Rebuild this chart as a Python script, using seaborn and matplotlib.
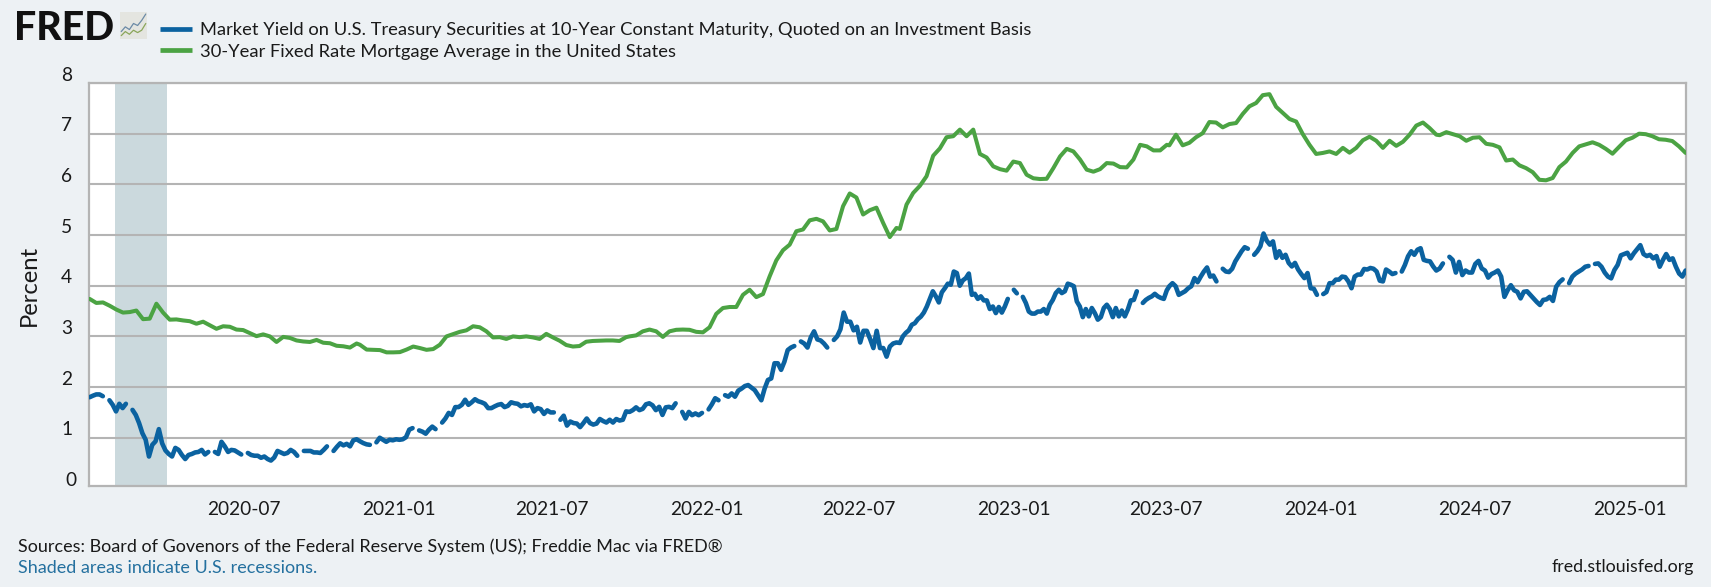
import numpy as np
import pandas as pd
import matplotlib
matplotlib.use("Agg")
import matplotlib.pyplot as plt
import matplotlib.dates as mdates
from matplotlib.transforms import blended_transform_factory, ScaledTranslation
import seaborn as sns

nan = np.nan

SERIES_TREASURY = "Market Yield on U.S. Treasury Securities at 10-Year Constant Maturity, Quoted on an Investment Basis"
SERIES_MORTGAGE = "30-Year Fixed Rate Mortgage Average in the United States"
SOURCES = "Sources: Board of Govenors of the Federal Reserve System (US); Freddie Mac via FRED®"
SHADED = "Shaded areas indicate U.S. recessions."
SITE = "fred.stlouisfed.org"
Y_LABEL = "Percent"
X_TICKS = ["2020-07-01", "2021-01-01", "2021-07-01", "2022-01-01", "2022-07-01",
           "2023-01-01", "2023-07-01", "2024-01-01", "2024-07-01", "2025-01-01"]
Y_TICKS = [1, 2, 3, 4, 5, 6, 7, 8]
RECESSION = ["2020-02-01", "2020-04-03"]

# each period of the chart runs between these dates
PERIOD_START = ["2020-01-02", "2020-11-18", "2021-10-04", "2022-08-21", "2023-07-07", "2024-05-23"]
PERIOD_END = ["2020-11-14", "2021-09-30", "2022-08-17", "2023-07-04", "2024-05-19", "2025-03-11"]

treasury_1 = [1.80, 1.83, 1.855, 1.855, 1.82, nan, 1.74, 1.65, 1.52, 1.67, 1.585, 1.67, nan, 1.55, 1.45, 1.29,
              1.09, 0.96, 0.63, 0.86, 0.93, 1.17, 0.89, 0.75, 0.68, 0.63, 0.80, 0.76, 0.66, 0.58, 0.66, 0.68,
              0.71, 0.72, 0.76, 0.67, 0.72, nan, 0.72, 0.68, 0.92, 0.83, 0.72, 0.76, 0.75, 0.71, 0.67, nan,
              0.70, 0.66, 0.645, 0.645, 0.605, 0.63, 0.58, 0.55, 0.61, 0.74, 0.71, 0.68, 0.70, 0.76, 0.72, 0.645,
              nan, 0.74, 0.74, 0.74, 0.71, 0.71, 0.70, 0.76, 0.83, nan, 0.74, 0.82, 0.89, 0.85, 0.88, 0.83, 0.95, 0.97]
treasury_2 = [0.93, 0.895, 0.87, 0.86, nan, 0.91, 1.0, 0.96, 0.92, 0.96, 0.95, 0.97, 0.96, 0.97, 1.01, 1.16, 1.19,
              nan, 1.145, 1.12, 1.08, 1.16, 1.22, 1.17, nan, 1.30, 1.38, 1.49, 1.45, 1.605, 1.605, 1.65, 1.75,
              1.65, 1.70, 1.76, 1.72, 1.70, 1.67, 1.585, 1.585, 1.62, 1.65, 1.665, 1.605, 1.63, 1.70, 1.68, 1.67,
              1.62, 1.645, 1.63, 1.66, 1.52, 1.585, 1.565, 1.47, 1.54, 1.50, 1.50, nan, 1.355, 1.435, 1.24, 1.32,
              1.29, 1.28, 1.21, 1.29, 1.38, 1.29, 1.26, 1.28, 1.37, 1.33, 1.30, 1.355, 1.30, 1.37, 1.34, 1.355, 1.52]
treasury_3 = [1.51, 1.545, 1.60, 1.545, 1.57, 1.66, 1.68, 1.64, 1.545, 1.61, 1.45, 1.60, 1.61, 1.585, 1.68, nan,
              1.51, 1.38, 1.51, 1.445, 1.48, 1.445, 1.49, nan, 1.56, 1.66, 1.78, 1.74, nan, 1.84, 1.81, 1.875,
              1.81, 1.93, 1.97, 2.02, 2.04, 1.99, 1.94, 1.84, 1.74, 1.97, 2.14, 2.17, 2.47, 2.47, 2.34, 2.50, 2.73,
              2.78, 2.81, nan, 2.90, 2.86, 2.78, 2.98, 3.10, 2.94, 2.92, 2.86, 2.78, nan, 2.93, 3.0, 3.14, 3.47,
              3.29, 3.29, 3.12, 3.19, 2.88, 3.11, 3.11, 2.95, 2.77, 3.11, 2.77, 2.77, 2.60, 2.80, 2.86, 2.88]
treasury_4 = [2.87, 3.0, 3.07, 3.12, 3.23, 3.26, 3.34, 3.39, 3.47, 3.59, 3.74, 3.89, 3.79, 3.67, 3.87, 3.95, 4.04,
              4.02, 4.28, 4.25, 4.0, 4.105, 4.15, 4.24, 3.82, 3.84, 3.74, 3.79, 3.71, 3.71, 3.54, 3.59, 3.46,
              3.58, 3.47, 3.59, 3.74, nan, 3.92, 3.85, nan, 3.78, 3.66, 3.49, 3.45, 3.45, 3.49, 3.49, 3.54, 3.45,
              3.625, 3.72, 3.855, 3.92, 3.855, 3.89, 4.04, 4.02, 3.99, 3.69, 3.59, 3.38, 3.54, 3.395, 3.56, 3.46,
              3.33, 3.38, 3.56, 3.625, 3.54, 3.38, 3.56, 3.395, 3.51, 3.395, 3.53, 3.71, 3.72, 3.89, nan, 3.66,
              3.72, 3.76, 3.79, 3.84, 3.79, 3.76, 3.74, 3.91]
treasury_5 = [3.99, 4.05, 3.99, 3.82, 3.855, 3.89, 3.95, 3.99, 4.15, 4.07, 4.18, 4.28, 4.36, 4.18, 4.20, 4.085, nan,
              4.335, 4.28, 4.27, 4.335, 4.48, 4.58, 4.68, 4.76, 4.73, nan, 4.61, 4.68, 4.78, 5.03, 4.89, 4.81,
              4.875, 4.55, 4.68, 4.55, 4.61, 4.45, 4.38, 4.45, 4.32, 4.23, 4.15, 4.25, 3.95, 3.94, 3.82, nan,
              3.835, 3.875, 4.05, 4.05, 4.12, 4.12, 4.18, 4.17, 4.085, 3.95, 4.18, 4.22, 4.22, 4.33, 4.32, 4.35,
              4.335, 4.28, 4.10, 4.085, 4.32, 4.28, 4.23, 4.25, nan, 4.28, 4.41, 4.58, 4.68, 4.61, 4.71, 4.74,
              4.51, 4.49, 4.48, 4.38, 4.30]
treasury_6 = [4.34, 4.44, nan, 4.57, 4.51, 4.26, 4.47, 4.21, 4.30, 4.26, 4.26, 4.43, 4.49, 4.34, 4.30, 4.16, 4.23,
              4.26, 4.30, 4.18, 3.78, 3.91, 4.01, 3.91, 3.88, 3.75, 3.88, 3.89, 3.82, 3.75, 3.68, 3.62, 3.72,
              3.73, 3.78, 3.70, 3.98, 4.07, 4.125, nan, 4.05, 4.18, 4.24, 4.28, 4.32, 4.375, 4.39, nan, 4.43,
              4.44, 4.375, 4.26, 4.18, 4.145, 4.31, 4.41, 4.60, 4.625, 4.65, 4.54, 4.64, 4.72, 4.80, 4.625, 4.585,
              4.61, 4.54, 4.585, 4.375, 4.51, 4.625, 4.51, 4.54, 4.375, 4.24, 4.18, 4.30]

mortgage_1 = [3.74, 3.66, 3.67, 3.605, 3.53, 3.47, 3.48, 3.51, 3.34, 3.35, 3.645, 3.47, 3.33, 3.335, 3.315, 3.30,
              3.25, 3.29, 3.22, 3.15, 3.20, 3.19, 3.135, 3.125, 3.065, 3.005, 3.04, 3.0, 2.89, 2.99, 2.97, 2.92,
              2.90, 2.89, 2.93, 2.875, 2.865, 2.815, 2.805, 2.78, 2.86]
mortgage_2 = [2.835, 2.74, 2.735, 2.73, 2.685, 2.685, 2.69, 2.74, 2.80, 2.77, 2.735, 2.75, 2.835, 3.0, 3.045, 3.09,
              3.12, 3.2, 3.18, 3.10, 2.98, 2.985, 2.95, 3.0, 2.985, 3.0, 2.98, 2.95, 3.05, 2.98, 2.915, 2.83, 2.80,
              2.81, 2.895, 2.91, 2.915, 2.92, 2.92, 2.91, 2.985]
mortgage_3 = [3.0, 3.02, 3.10, 3.135, 3.10, 2.99, 3.10, 3.13, 3.135, 3.13, 3.09, 3.08, 3.18, 3.445, 3.56, 3.58, 3.58,
              3.82, 3.92, 3.775, 3.835, 4.185, 4.50, 4.70, 4.81, 5.075, 5.11, 5.29, 5.32, 5.27, 5.09, 5.12, 5.57,
              5.82, 5.74, 5.405, 5.49, 5.54, 5.24, 4.96, 5.14]
mortgage_4 = [5.12, 5.60, 5.83, 5.97, 6.16, 6.565, 6.71, 6.93, 6.95, 7.08, 6.95, 7.08, 6.60, 6.53, 6.355, 6.30, 6.27,
              6.45, 6.42, 6.19, 6.12, 6.105, 6.11, 6.32, 6.55, 6.70, 6.65, 6.49, 6.29, 6.25, 6.30, 6.42, 6.41, 6.34,
              6.335, 6.49, 6.78, 6.75, 6.67, 6.67, 6.78]
mortgage_5 = [6.77, 6.98, 6.77, 6.82, 6.93, 7.01, 7.23, 7.22, 7.125, 7.19, 7.21, 7.39, 7.54, 7.605, 7.76, 7.78, 7.53,
              7.41, 7.29, 7.24, 6.99, 6.78, 6.60, 6.62, 6.65, 6.60, 6.72, 6.625, 6.72, 6.87, 6.94, 6.86, 6.72, 6.86,
              6.76, 6.84, 6.98, 7.16, 7.22, 7.11, 6.98]
mortgage_6 = [6.97, 7.03, 6.99, 6.95, 6.86, 6.92, 6.93, 6.80, 6.78, 6.73, 6.47, 6.49, 6.375, 6.32, 6.24, 6.09, 6.08,
              6.125, 6.34, 6.45, 6.62, 6.75, 6.79, 6.83, 6.78, 6.70, 6.605, 6.74, 6.87, 6.92, 7.0, 6.99, 6.95, 6.89,
              6.88, 6.855, 6.75, 6.62]

TREASURY = [treasury_1, treasury_2, treasury_3, treasury_4, treasury_5, treasury_6]
MORTGAGE = [mortgage_1, mortgage_2, mortgage_3, mortgage_4, mortgage_5, mortgage_6]

BG = "#EDF1F4"
GRID = "#B4B4B4"
BLUE = "#0B62A0"
GREEN = "#4BA343"
BAND = "#CBD9DD"
INK = "#1A1A1A"
FONT = "Lato"


def frame(name, periods):
    parts = []
    for vals, s, e in zip(periods, PERIOD_START, PERIOD_END):
        d = pd.date_range(s, e, periods=len(vals))
        parts.append(pd.DataFrame({"date": d, "value": vals}))
    df = pd.concat(parts, ignore_index=True)
    df["part"] = df["value"].isna().cumsum()
    df["series"] = name
    return df.dropna()


data = pd.concat([frame(SERIES_TREASURY, TREASURY), frame(SERIES_MORTGAGE, MORTGAGE)], ignore_index=True)
data["unit"] = data["series"].str[:2] + data["part"].astype(str)

sns.set_theme(style="white")
plt.rcParams["font.family"] = [FONT, "DejaVu Sans"]

W, H = 1711, 587
fig = plt.figure(figsize=(W / 100, H / 100), dpi=100, facecolor=BG)
L, R, T, B = 88.8, 1685.6, 83.0, 485.7
ax = fig.add_axes([L / W, 1 - B / H, (R - L) / W, (B - T) / H], facecolor="white")

ax.axvspan(pd.Timestamp(RECESSION[0]), pd.Timestamp(RECESSION[1]), color=BAND, lw=0, zorder=1)
sns.lineplot(data=data, x="date", y="value", hue="series", units="unit", estimator=None,
             palette={SERIES_TREASURY: BLUE, SERIES_MORTGAGE: GREEN}, linewidth=2.9,
             solid_capstyle="round", solid_joinstyle="round", ax=ax, zorder=3)
for line in ax.get_lines():
    if line.get_color() == BLUE:
        line.set_linewidth(3.3)

handles, labels = ax.get_legend_handles_labels()
ax.get_legend().remove()

ax.set_xlim(pd.Timestamp("2020-01-01"), pd.Timestamp("2025-03-11"))
ax.set_ylim(0.054, 8)
ax.set_axisbelow("line")
ax.set_yticks(Y_TICKS)
ax.set_xticks(pd.to_datetime(X_TICKS))
ax.xaxis.set_major_formatter(mdates.DateFormatter("%Y-%m"))
ax.grid(axis="y", color=GRID, lw=1.5)
ax.grid(axis="x", visible=False)
ax.tick_params(axis="x", length=0, pad=11, labelsize=13.8, labelcolor=INK)
ax.tick_params(axis="y", length=0, pad=12, labelsize=13.8, labelcolor=INK)
up = ScaledTranslation(0, 2.3 / 100, fig.dpi_scale_trans)
right = ScaledTranslation(2 / 100, 0, fig.dpi_scale_trans)
for t in ax.get_yticklabels():
    t.set_va("baseline")
    t.set_transform(t.get_transform() + up)
for t in ax.get_xticklabels():
    t.set_transform(t.get_transform() + right)
for s in ax.spines.values():
    s.set_color(GRID)
    s.set_linewidth(1.6)
ax.set_xlabel("")
ax.set_ylabel("")

ax.text(-12 / (R - L), 0, "0", transform=blended_transform_factory(ax.transAxes, ax.transData) + up,
        ha="right", va="baseline", fontsize=13.8, color=INK, clip_on=False)

fig.text(29 / W, 1 - 285 / H, Y_LABEL, rotation=90, ha="center", va="center", fontsize=17.2, color=INK)

leg = fig.legend(handles, labels, loc="upper left", bbox_to_anchor=(160 / W, 1 - 22.5 / H), frameon=False,
                 fontsize=13.2, labelcolor=INK, handlelength=1.75, handletextpad=0.44, labelspacing=0.28,
                 borderpad=0, borderaxespad=0)
for h in leg.get_lines():
    h.set_linewidth(3.4)
    h.set_solid_capstyle("butt")

fig.text(18 / W, 1 - 547 / H, SOURCES, ha="left", va="center", fontsize=13.0, color=INK)
fig.text(18 / W, 1 - 568 / H, SHADED, ha="left", va="center", fontsize=13.0, color="#24709F")
fig.text(1694 / W, 1 - 567 / H, SITE, ha="right", va="center", fontsize=12.8, color=INK)

# FRED logo: word and small picture
fig.text(14 / W, 1 - 39.5 / H, "FRED", ha="left", va="baseline", fontsize=28.3, fontweight="black",
         color="#111111", family=FONT)
icon = fig.add_axes([120 / W, 1 - 39 / H, 27 / W, 27 / H], facecolor="#E4E5E0")
icon.plot([0, 1, 2, 3, 4, 5, 6], [2.2, 3.6, 2.8, 4.6, 4.0, 5.5, 7.4], color="#6B8AA6", lw=0.9)
icon.plot([0, 1, 2, 3, 4, 5, 6], [1.0, 2.2, 1.4, 2.6, 1.9, 2.6, 4.6], color="#8AA65A", lw=0.9)
icon.set_xlim(-0.3, 6.3)
icon.set_ylim(0, 8)
icon.set_xticks([])
icon.set_yticks([])
for s in icon.spines.values():
    s.set_visible(False)

fig.savefig("out.png", dpi=100, facecolor=BG)
